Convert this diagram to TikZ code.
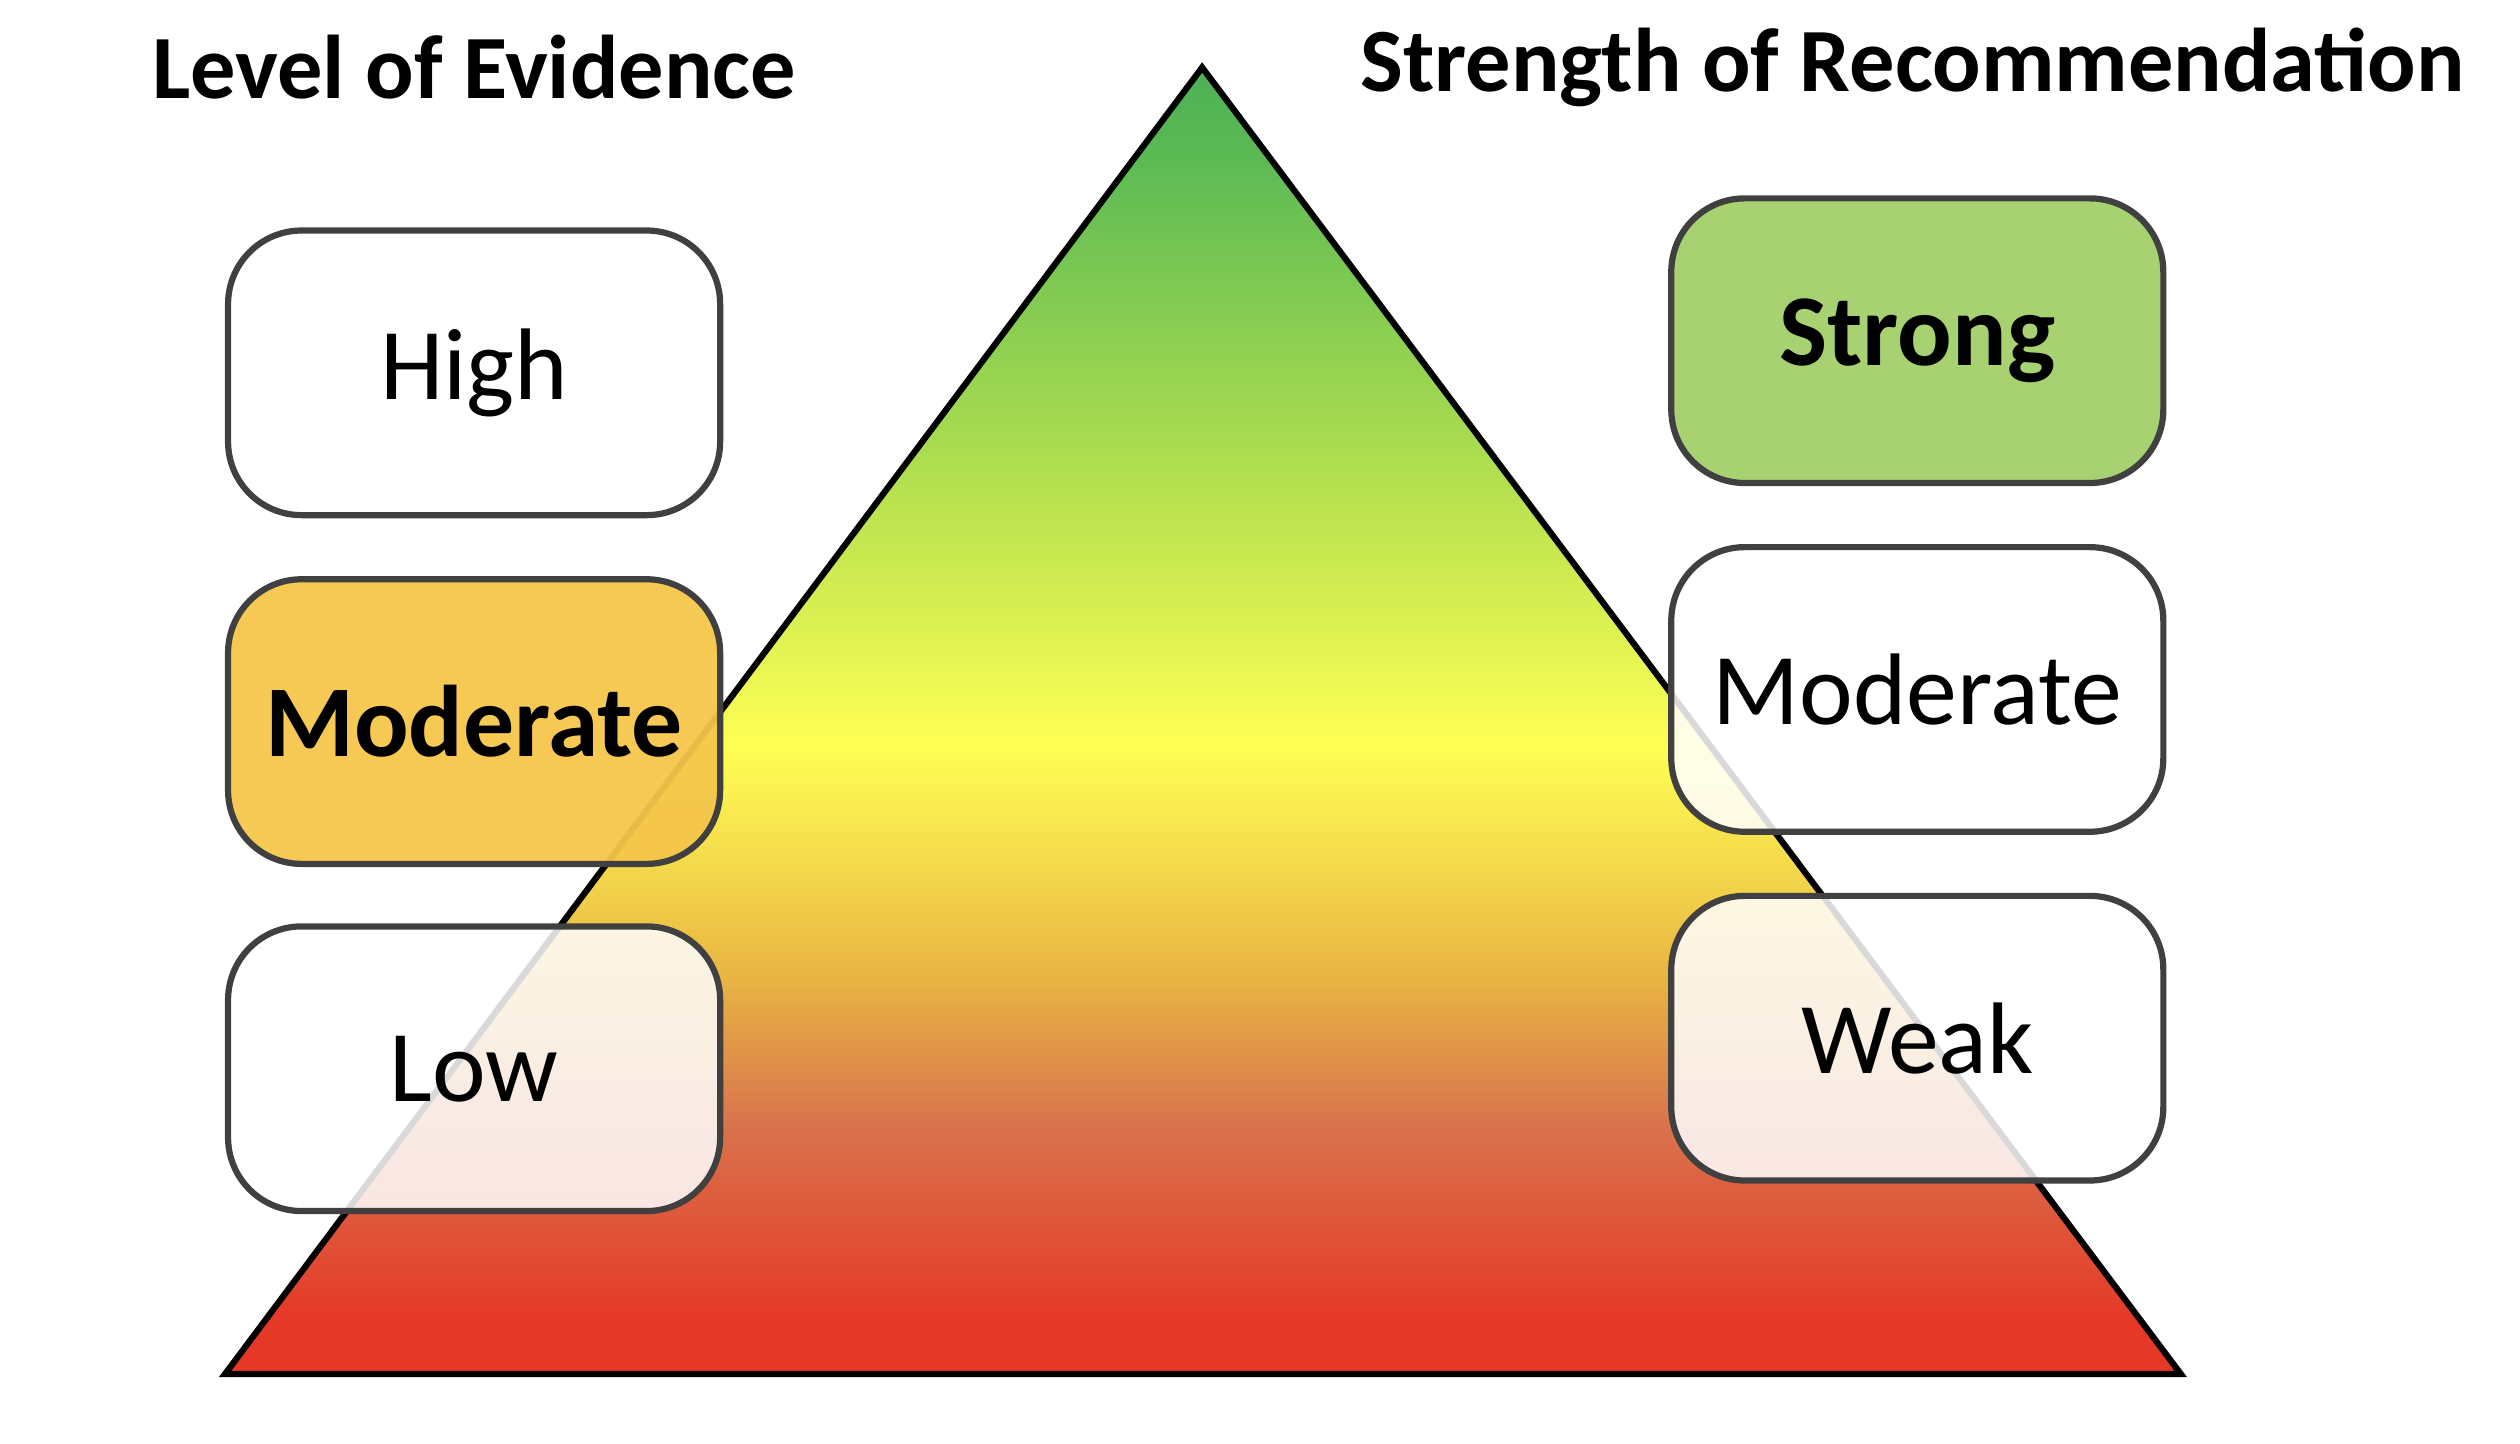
\documentclass[tikz,border=0pt]{standalone}
\usepackage{fontspec}
\setmainfont{Carlito}
\usetikzlibrary{calc}
\pgfdeclareverticalshading{pyramid}{100bp}{
  rgb(0bp)=(0.90,0.21,0.15); rgb(27bp)=(0.90,0.22,0.15);
  rgb(34.5bp)=(0.85,0.45,0.30); rgb(40bp)=(0.91,0.70,0.26);
  rgb(49bp)=(1,1,0.33); rgb(59bp)=(0.71,0.88,0.31);
  rgb(71.5bp)=(0.36,0.73,0.33); rgb(75bp)=(0.30,0.69,0.33); rgb(100bp)=(0.30,0.69,0.33)}
\definecolor{boxorange}{RGB}{244,198,74}
\definecolor{boxgreen}{RGB}{168,210,114}
\tikzset{
  lvl/.style={draw=black!75, line width=1.1pt, rounded corners=13pt, minimum width=3.06cm, minimum height=1.77cm, font=\fontsize{18}{21}\selectfont},
  plain/.style={lvl, fill=white, fill opacity=0.85, text opacity=1},
  title/.style={font=\fontsize{16}{19}\selectfont\bfseries}
}
\begin{document}
\begin{tikzpicture}[x=0.01cm, y=-0.01cm]
    \useasboundingbox (0,0) rectangle (1568,898);

    \coordinate (apex) at (748,42);
    \coordinate (bl) at (140,855);
    \coordinate (br) at (1357,855);
    \shade[shading=pyramid] (apex) -- (bl) -- (br) -- cycle;
    \draw[line width=1.1pt, line join=miter] (apex) -- (bl) -- (br) -- cycle;

    \node[title] (evid) at (295,42) {Level of Evidence};
    \node[title] (recom) at (1190,42) {Strength of Recommendation};

    \node[plain] (high) at (295,232) {High};
    \node[lvl, fill=boxorange, fill opacity=0.95, text opacity=1] (modl) at (295,449) {\bfseries Moderate};
    \node[plain] (low) at (295,665) {Low};

    \node[lvl, fill=boxgreen] (strong) at (1193,212) {\bfseries Strong};
    \node[plain] (modr) at (1193,429) {Moderate};
    \node[plain] (weak) at (1193,646) {Weak};

\end{tikzpicture}
\end{document}
